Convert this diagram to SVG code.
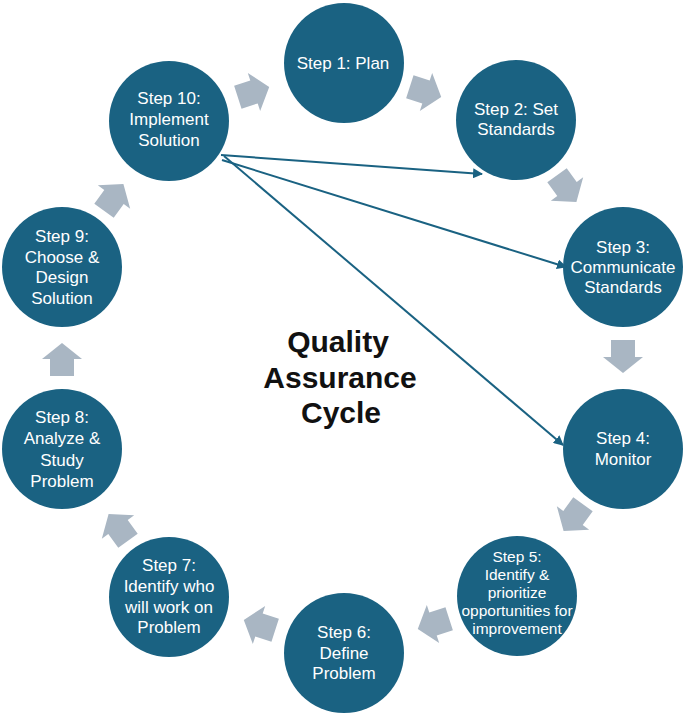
<svg xmlns="http://www.w3.org/2000/svg" width="685" height="715" viewBox="0 0 685 715">
<style>
.node{fill:#1a6282}
.lbl{fill:#ffffff;font-family:"Liberation Sans",Arial,sans-serif;font-size:17px;text-anchor:middle}
.sm{font-size:15.5px}
.blk{fill:#a9b6c3}
.con{stroke:#1a6282;stroke-width:2;fill:none;marker-end:url(#ah)}
.title{fill:#111111;font-family:"Liberation Sans",Arial,sans-serif;font-size:30px;font-weight:bold;text-anchor:middle}
</style>
<defs>
<marker id="ah" viewBox="0 0 10 10" refX="9" refY="5" markerWidth="5" markerHeight="5" orient="auto" markerUnits="strokeWidth">
<path d="M0,0 L10,5 L0,10 Z" fill="#1a6282"/>
</marker>
<path id="blk" d="M-17,-12 H0 V-20 L16,0 L0,20 V12 H-17 Z"/>
</defs>
<rect width="685" height="715" fill="#ffffff"/>
<g id="cycle-arrows">
<use href="#blk" class="blk" transform="translate(254,92) rotate(-18)"/>
<use href="#blk" class="blk" transform="translate(426,92) rotate(18)"/>
<use href="#blk" class="blk" transform="translate(567,189) rotate(54)"/>
<use href="#blk" class="blk" transform="translate(623,357) rotate(90)"/>
<use href="#blk" class="blk" transform="translate(573,518) rotate(126)"/>
<use href="#blk" class="blk" transform="translate(433,624) rotate(162)"/>
<use href="#blk" class="blk" transform="translate(259,625) rotate(198)"/>
<use href="#blk" class="blk" transform="translate(118,527) rotate(234)"/>
<use href="#blk" class="blk" transform="translate(62,359) rotate(270)"/>
<use href="#blk" class="blk" transform="translate(114,197) rotate(306)"/>
</g>
<g id="step1"><circle class="node" cx="344" cy="63" r="60"/><text class="lbl" x="343" y="69">Step 1: Plan</text></g>
<g id="step2"><circle class="node" cx="516" cy="120" r="60"/><text class="lbl" x="516" y="115">Step 2: Set</text><text class="lbl" x="516" y="135">Standards</text></g>
<g id="step3"><circle class="node" cx="623" cy="267" r="60"/><text class="lbl" x="623" y="253">Step 3:</text><text class="lbl" x="623" y="273">Communicate</text><text class="lbl" x="623" y="293">Standards</text></g>
<g id="step4"><circle class="node" cx="623" cy="449" r="60"/><text class="lbl" x="623" y="444">Step 4:</text><text class="lbl" x="623" y="465">Monitor</text></g>
<g id="step5"><circle class="node" cx="517" cy="596" r="60"/><text class="lbl sm" x="517" y="562">Step 5:</text><text class="lbl sm" x="517" y="580">Identify &amp;</text><text class="lbl sm" x="517" y="598">prioritize</text><text class="lbl sm" x="517" y="616">opportunities for</text><text class="lbl sm" x="517" y="634">improvement</text></g>
<g id="step6"><circle class="node" cx="344" cy="653" r="60"/><text class="lbl" x="344" y="638">Step 6:</text><text class="lbl" x="344" y="659">Define</text><text class="lbl" x="344" y="679">Problem</text></g>
<g id="step7"><circle class="node" cx="169" cy="597" r="60"/><text class="lbl" x="169" y="571">Step 7:</text><text class="lbl" x="169" y="592">Identify who</text><text class="lbl" x="169" y="613">will work on</text><text class="lbl" x="169" y="633">Problem</text></g>
<g id="step8"><circle class="node" cx="62" cy="449" r="60"/><text class="lbl" x="62" y="423">Step 8:</text><text class="lbl" x="62" y="444">Analyze &amp;</text><text class="lbl" x="62" y="466">Study</text><text class="lbl" x="62" y="487">Problem</text></g>
<g id="step9"><circle class="node" cx="62" cy="267" r="60"/><text class="lbl" x="62" y="242">Step 9:</text><text class="lbl" x="62" y="263">Choose &amp;</text><text class="lbl" x="62" y="283">Design</text><text class="lbl" x="62" y="304">Solution</text></g>
<g id="step10"><circle class="node" cx="169" cy="121" r="60"/><text class="lbl" x="169" y="104">Step 10:</text><text class="lbl" x="169" y="125">Implement</text><text class="lbl" x="169" y="146">Solution</text></g>
<g id="connectors">
<line class="con" x1="221" y1="155" x2="482" y2="174"/>
<line class="con" x1="222" y1="160" x2="566" y2="267"/>
<line class="con" x1="224" y1="156" x2="563" y2="445"/>
</g>
<g id="title">
<text class="title" x="338" y="352">Quality</text>
<text class="title" x="340" y="388">Assurance</text>
<text class="title" x="341" y="423">Cycle</text>
</g>
</svg>
